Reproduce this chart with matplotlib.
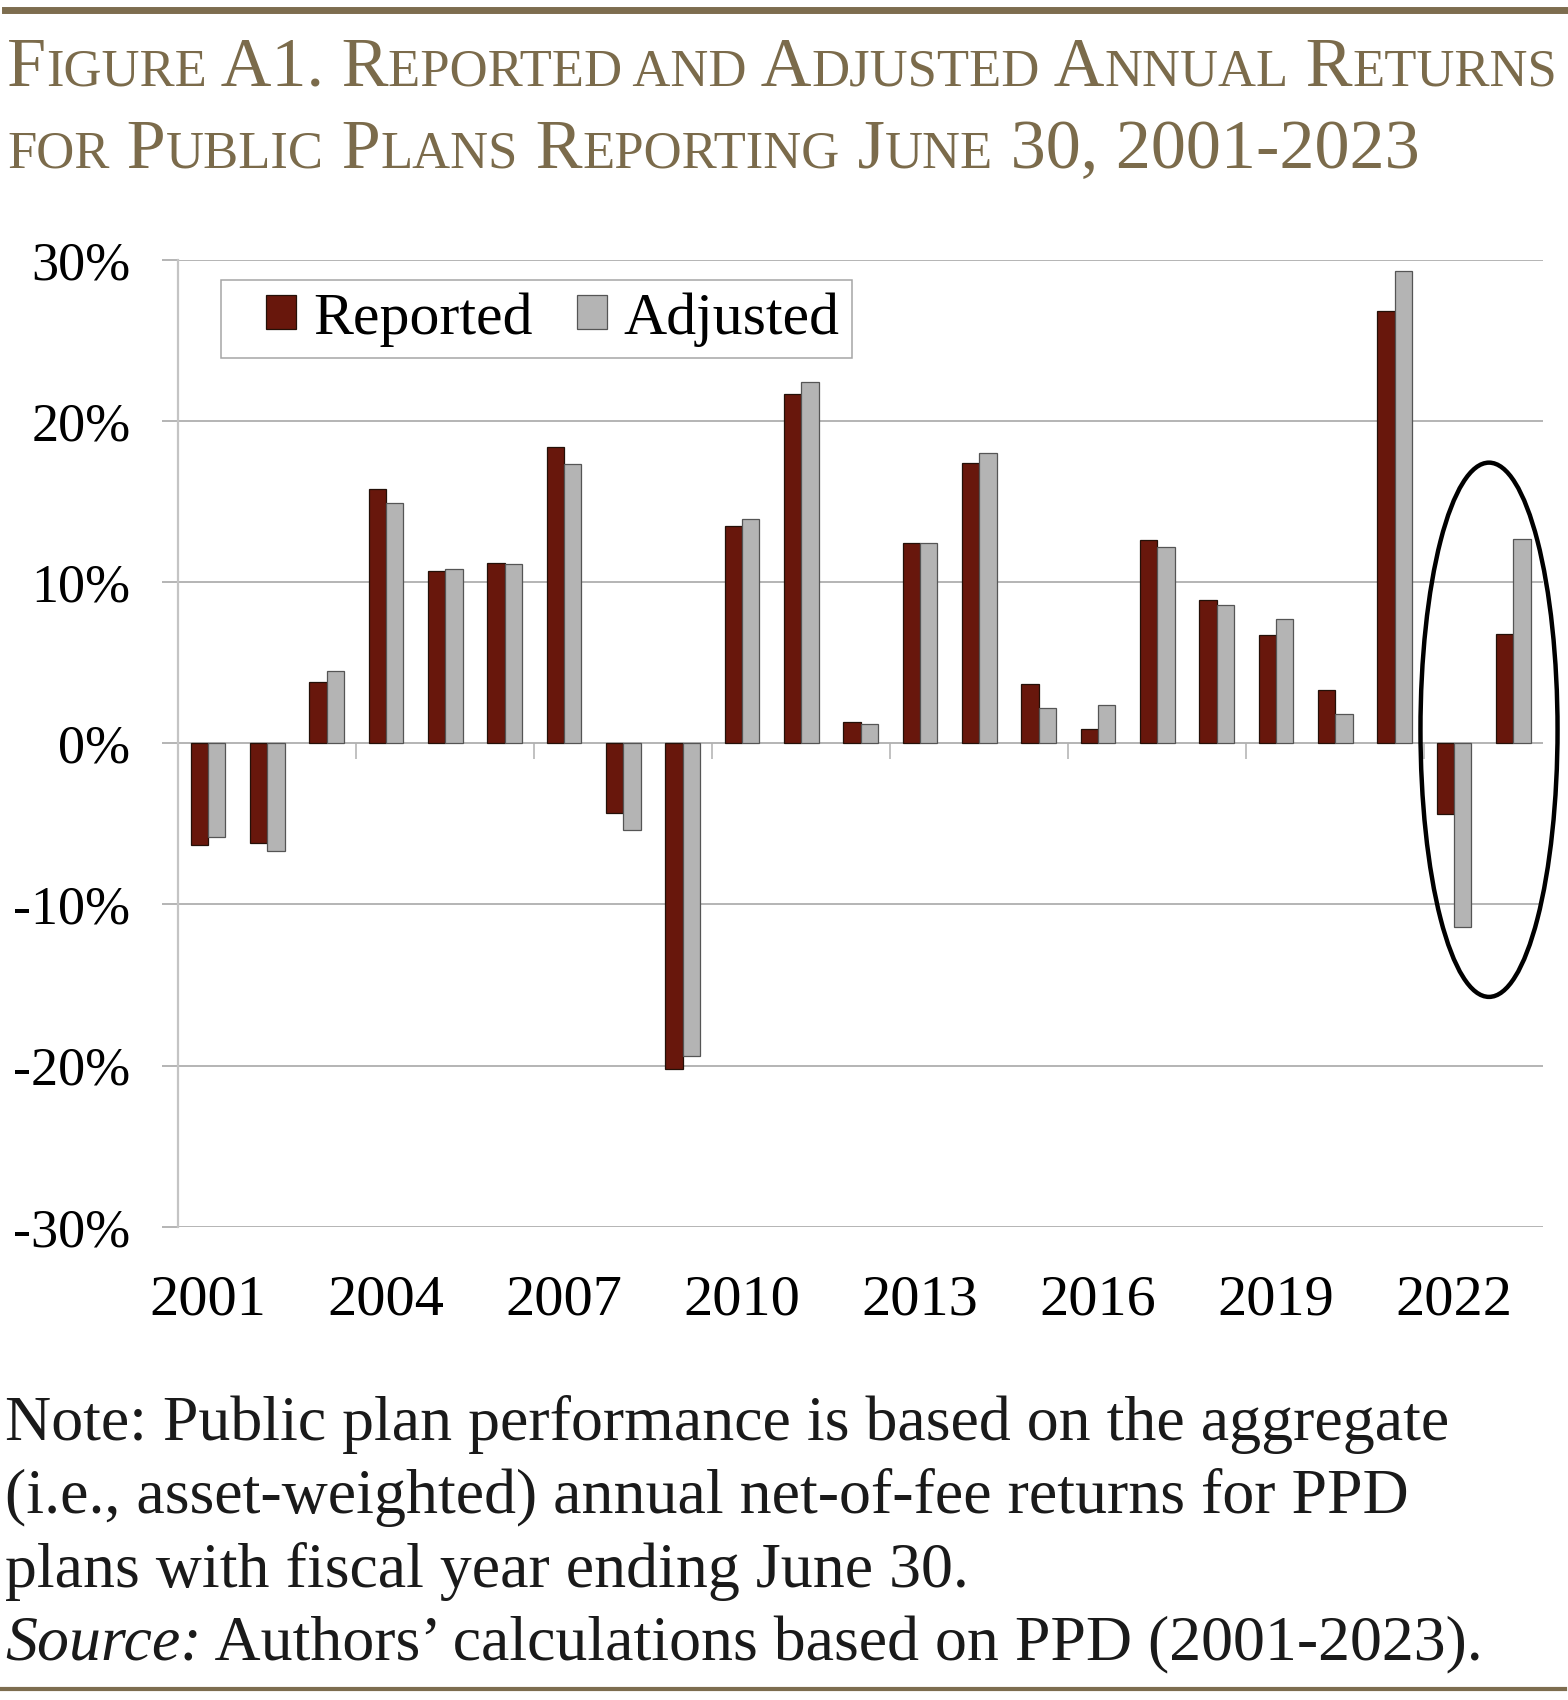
import numpy as np
import matplotlib.pyplot as plt
from matplotlib.patches import Ellipse, Patch
from matplotlib.lines import Line2D
from matplotlib.legend_handler import HandlerPatch
from matplotlib.transforms import IdentityTransform

# data (annual returns, %)
years = list(range(2001, 2024))
reported = [-6.3, -6.2, 3.8, 15.8, 10.7, 11.2, 18.4, -4.3, -20.2, 13.5, 21.7, 1.3,
            12.4, 17.4, 3.7, 0.9, 12.6, 8.9, 6.7, 3.3, 26.8, -4.4, 6.8]
adjusted = [-5.8, -6.7, 4.5, 14.9, 10.8, 11.1, 17.3, -5.4, -19.4, 13.9, 22.4, 1.2,
            12.4, 18.0, 2.2, 2.4, 12.2, 8.6, 7.7, 1.8, 29.3, -11.4, 12.7]
yticks = [-30, -20, -10, 0, 10, 20, 30]
ytick_labels = ['%d%%' % v for v in yticks]
label_years = years[::3]

title1 = 'Figure A1. Reported and Adjusted Annual Returns'
title2 = 'for Public Plans Reporting June 30, 2001-2023'
note_lines = ['Note: Public plan performance is based on the aggregate',
              '(i.e., asset-weighted) annual net-of-fee returns for PPD',
              'plans with fiscal year ending June 30.']
source_label = 'Source:'
source_text = ' Authors\u2019 calculations based on PPD (2001-2023).'

red = '#68170C'
grey = '#B4B4B4'
gold = '#7B6B4B'
serif = 'Liberation Serif'

plt.rcParams['font.family'] = serif

W, H = 1568, 1700
fig = plt.figure(figsize=(W / 100, H / 100), dpi=100)
ax = fig.add_axes([178.3 / W, 1 - 1226.8 / H, 1364.7 / W, 967 / H])

x = np.arange(len(years))
w = 0.29
ax.bar(x - w / 2, reported, w, color=red, edgecolor='#241008', linewidth=0.9, zorder=3)
ax.bar(x + w / 2, adjusted, w, color=grey, edgecolor='#555555', linewidth=0.9, zorder=3)

ax.set_xlim(-0.5, len(years) - 0.5)
ax.set_ylim(-30, 30)
ax.set_yticks(yticks)
ax.set_yticklabels(ytick_labels)
ax.set_xticks([years.index(y) for y in label_years])
ax.set_xticklabels([str(y) for y in label_years])
ax.tick_params(axis='y', length=11.5, width=1.1, color='#a0a0a0', pad=23, labelsize=39)
ax.tick_params(axis='x', length=0, pad=34, labelsize=42)

ax.grid(axis='y', color='#a0a0a0', linewidth=1.1, zorder=0)
for s in ['top', 'right', 'bottom']:
    ax.spines[s].set_visible(False)
ax.spines['left'].set_color('#c4c4c4')
ax.spines['left'].set_linewidth(1.6)

# tick marks between category groups on the zero line
bounds = np.arange(2.5, len(years) - 1, 3)
ax.vlines(bounds, -1.0, 0, color='#b0b0b0', linewidth=1.1, zorder=2)

# circle round the last two years
ax.add_patch(Ellipse((21.59, 0.84), 2.31, 33.15, fill=False, edgecolor='black',
                     linewidth=3.2, clip_on=False, zorder=5))

handles = [Patch(facecolor=red, edgecolor='#241008', linewidth=0.9, label='Reported'),
           Patch(facecolor=grey, edgecolor='#555555', linewidth=0.9, label='Adjusted')]
leg = ax.legend(handles=handles, handler_map={Patch: HandlerPatch(xpad=0.55)},
                loc='upper left', bbox_to_anchor=(0.0316, 0.979), borderaxespad=0,
                ncol=2, fontsize=43, handlelength=1.05, handleheight=0.5,
                handletextpad=0.28, columnspacing=0.2, borderpad=0.2,
                fancybox=False, framealpha=1, edgecolor='#a6a6a6')
leg.get_frame().set_linewidth(1.1)

# title in small caps: capitals big, lowercase as smaller capitals
fig.canvas.draw()
renderer = fig.canvas.get_renderer()


def small_caps(line, x0, y0, big, small):
    runs = []
    pending = ''
    for ch in line:
        if ch == ' ':
            pending += ch
            continue
        sz = small if ch.islower() else big
        if runs and runs[-1][1] == sz:
            runs[-1][0] += pending + ch
        else:
            runs.append([pending + ch, sz])
        pending = ''
    texts = []
    xx = x0
    for txt, sz in runs:
        t = fig.text(xx, y0, txt.upper(), fontsize=sz, color=gold, family=serif,
                     va='baseline', ha='left', transform=IdentityTransform())
        xx += t.get_window_extent(renderer).width
        texts.append(t)
    return texts, xx - x0


big, small = 44, 33
tt, width = small_caps(title1, 7, H - 86, big, small)
for t in tt:
    t.remove()
k = 1555 / width
small_caps(title1, 7, H - 86, big * k, small * k)
small_caps(title2, 7, H - 168, big * k, small * k)

# rules
fig.add_artist(Line2D([5 / W, 1], [1 - 9.5 / H] * 2, transform=fig.transFigure, color='#7d6d4f', linewidth=5))
fig.add_artist(Line2D([0, 1 - 3 / W], [1 - 1689 / H] * 2, transform=fig.transFigure, color='#7d6d4f', linewidth=3))

# notes
note_size = 46
baselines = [1440, 1513, 1587, 1660]
for line, b in zip(note_lines, baselines):
    fig.text(5 / W, 1 - b / H, line, fontsize=note_size, color='#1a1a1a', va='baseline', ha='left')
st = fig.text(5 / W, 1 - baselines[3] / H, source_label, fontsize=note_size, style='italic',
              color='#1a1a1a', va='baseline', ha='left')
sw = st.get_window_extent(renderer).width
fig.text((5 + sw) / W, 1 - baselines[3] / H, source_text, fontsize=note_size, color='#1a1a1a',
         va='baseline', ha='left')

fig.savefig('out.png', dpi=100)
